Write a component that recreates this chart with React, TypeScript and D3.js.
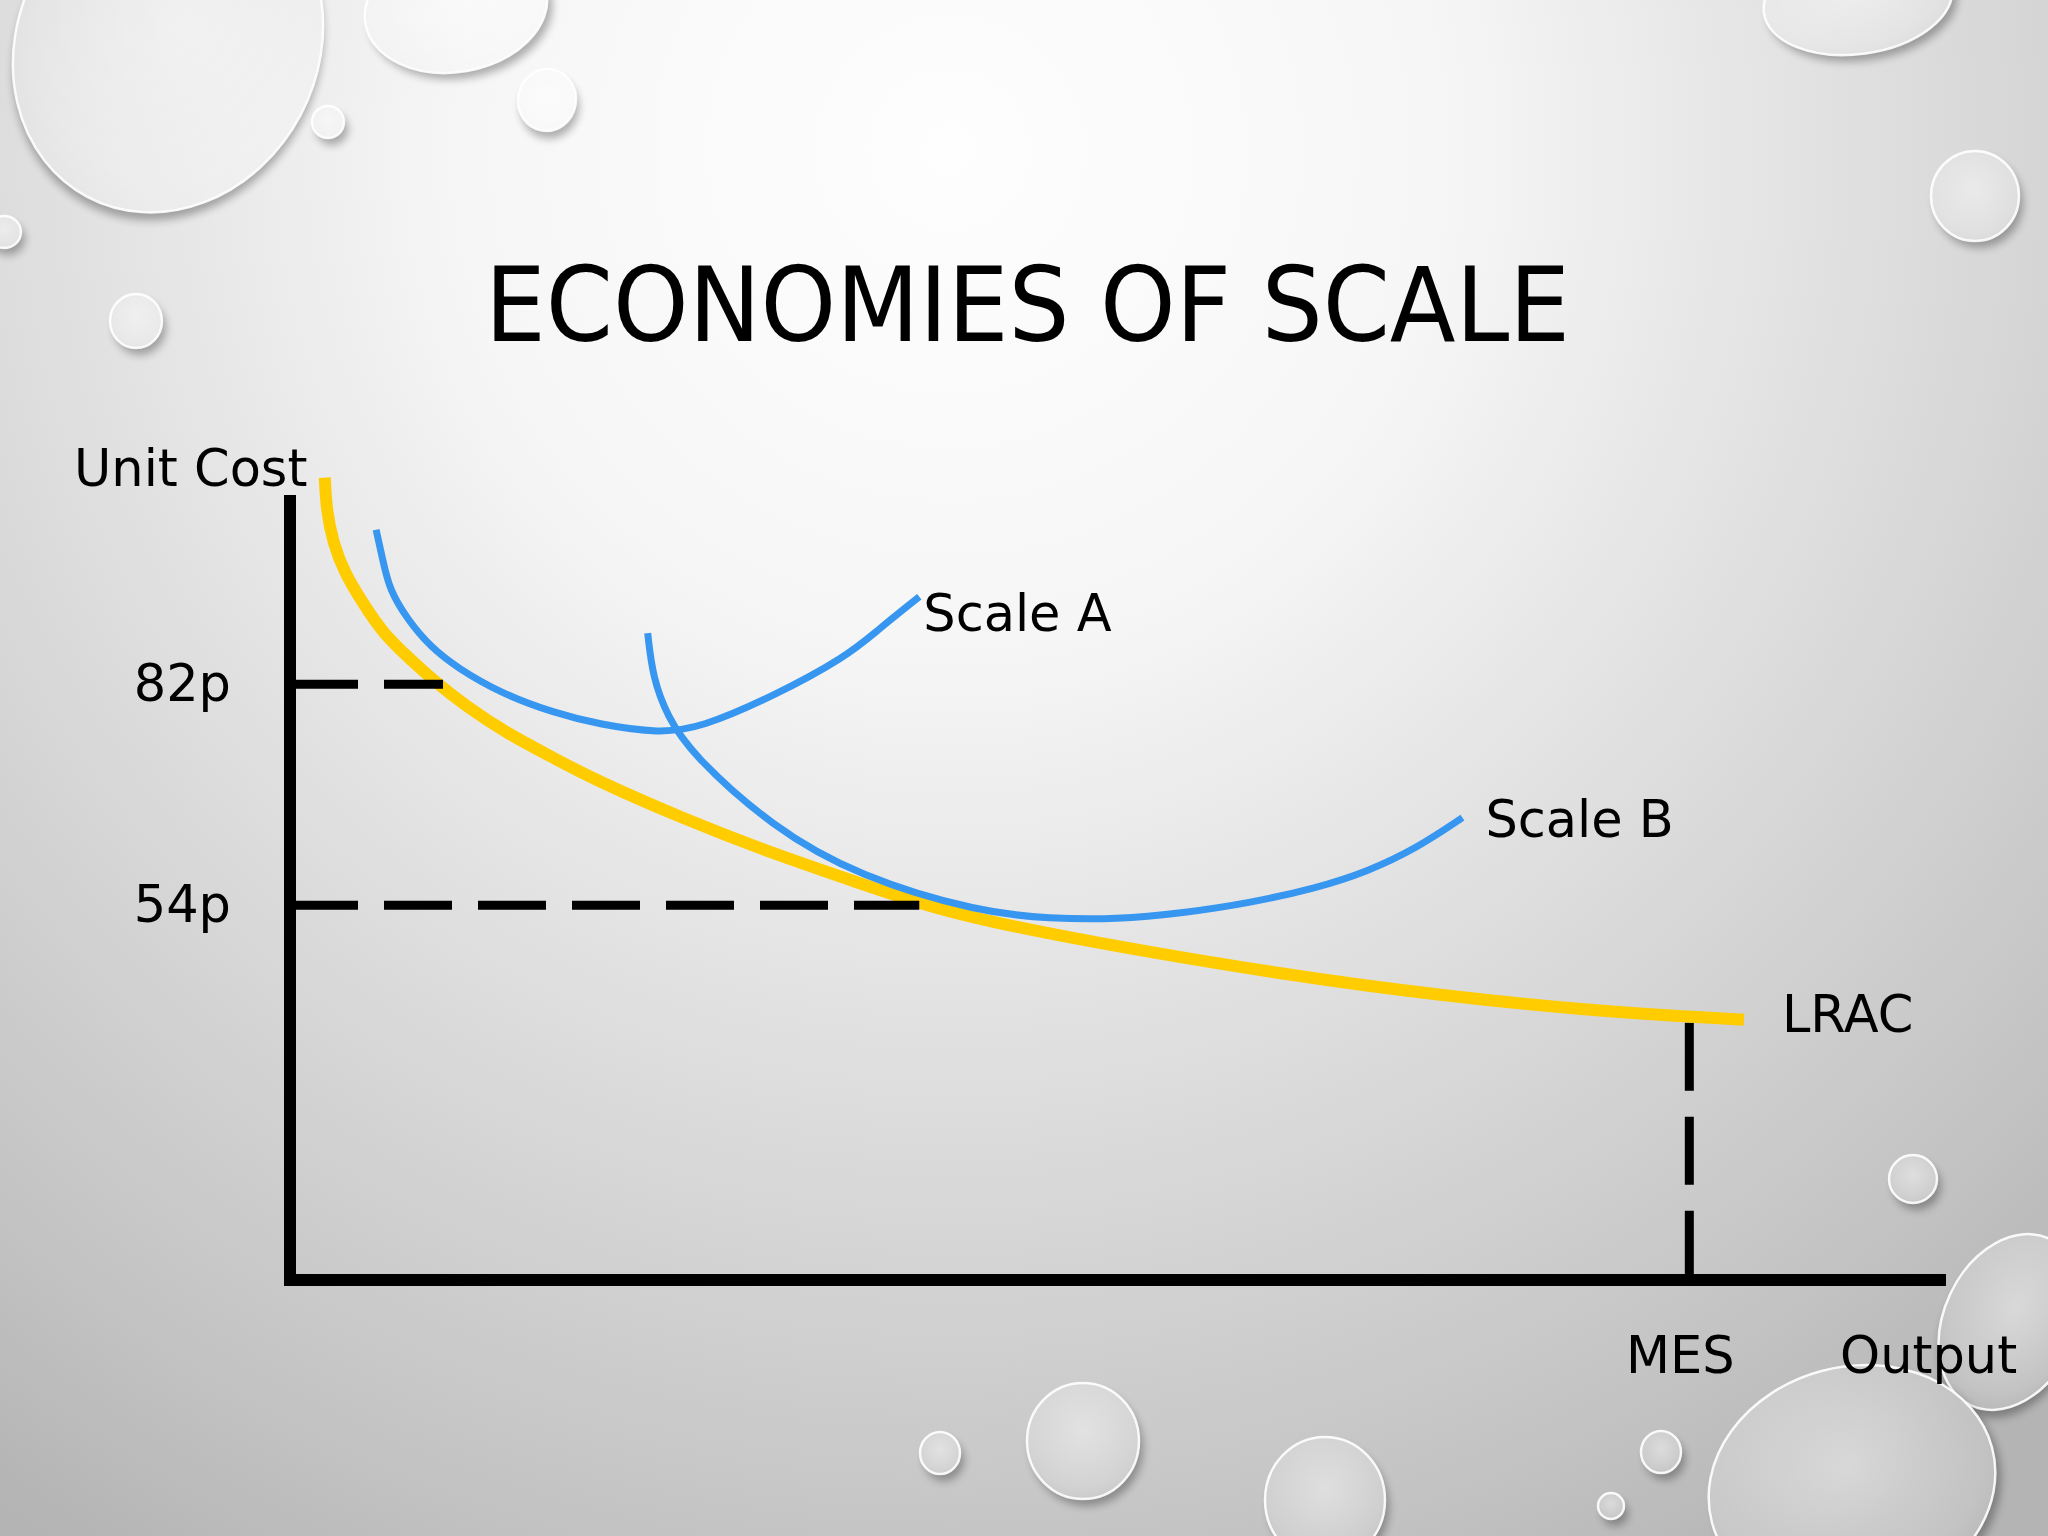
import React, { useEffect, useRef } from 'react';
import * as d3 from 'd3';

// output (0-100 along the x axis) vs unit cost in pence
const lracOutput = [2.1, 2.2, 2.6, 3.3, 4.4, 5.6, 7.3, 8.6, 10.7, 13.1, 15.9, 18.2, 23.7, 29.1, 34.4, 37.9, 41.7, 51.0, 64.9, 78.8, 87.8];
const lracCost = [108.2, 104.1, 99.9, 96.1, 92.3, 88.5, 85.1, 82.6, 79.1, 75.8, 72.7, 70.1, 65.0, 60.6, 56.8, 54.3, 52.1, 48.3, 43.6, 40.5, 39.5];

const scaleAOutput = [5.2, 5.6, 6.0, 7.1, 8.5, 10.1, 12.7, 15.9, 18.7, 22.3, 24.8, 29.1, 33.6, 35.5, 38.0];
const scaleACost = [101.6, 97.8, 94.0, 90.2, 86.7, 84.1, 80.9, 78.4, 76.9, 75.8, 76.5, 80.4, 85.5, 88.9, 93.1];

const scaleBOutput = [21.6, 21.9, 22.8, 24.2, 29.1, 34.4, 41.7, 45.9, 49.9, 53.9, 58.0, 62.0, 65.0, 68.1, 70.8];
const scaleBCost = [88.5, 82.9, 77.9, 73.3, 63.9, 57.6, 53.1, 52.3, 52.2, 53.0, 54.3, 56.2, 58.2, 61.3, 65.1];

const costTicks = [82, 54];
const costTickLabels = ['82p', '54p'];
const guideEnds = [9.24, 38.0]; // output where each cost guide meets the curves

const mesOutput = 84.5;
const mesCost = 39.6;

const curveNames = ['LRAC', 'Scale A', 'Scale B'];

// decorative water drops: cx, cy, rx, ry, rotation
const drops: [number, number, number, number, number][] = [
    [168, 45, 150, 172, 28],
    [456, 8, 92, 64, -10],
    [547, 100, 29, 31, 10],
    [328, 122, 16, 16, 0],
    [4, 232, 17, 16, 0],
    [136, 321, 26, 27, 0],
    [1858, 0, 95, 54, -8],
    [1975, 196, 44, 45, 0],
    [1913, 1179, 24, 24, 0],
    [2010, 1322, 66, 92, 25],
    [940, 1453, 20, 21, 0],
    [1083, 1441, 56, 58, 0],
    [1325, 1500, 60, 63, 0],
    [1661, 1452, 20, 21, 0],
    [1611, 1506, 13, 13, 0],
    [1852, 1485, 145, 118, -15],
];

const W = 2048;
const H = 1536;
const FONT = '"DejaVu Sans", Verdana, sans-serif';

const App: React.FC = () => {
    const svgRef = useRef<SVGSVGElement>(null);

    useEffect(() => {
        if (!svgRef.current) return;
        const svg = d3.select(svgRef.current);
        svg.selectAll('*').remove();

        const x = d3.scaleLinear().domain([0, 100]).range([290, 1946]);
        const y = d3.scaleLinear().domain([6.5, 106]).range([1280, 495]);

        const defs = svg.append('defs');
        const bg = defs.append('radialGradient')
            .attr('id', 'bg')
            .attr('gradientUnits', 'userSpaceOnUse')
            .attr('cx', 950).attr('cy', 150).attr('r', 1650);
        bg.append('stop').attr('offset', 0).attr('stop-color', '#fefefe');
        bg.append('stop').attr('offset', 0.3).attr('stop-color', '#f6f6f6');
        bg.append('stop').attr('offset', 0.62).attr('stop-color', '#d9d9d9');
        bg.append('stop').attr('offset', 0.85).attr('stop-color', '#c4c4c4');
        bg.append('stop').attr('offset', 1).attr('stop-color', '#b4b4b4');

        const dropFill = defs.append('radialGradient')
            .attr('id', 'drop')
            .attr('cx', '50%').attr('cy', '42%').attr('r', '60%');
        dropFill.append('stop').attr('offset', 0).attr('stop-color', '#fff').attr('stop-opacity', 0.45);
        dropFill.append('stop').attr('offset', 0.8).attr('stop-color', '#fff').attr('stop-opacity', 0.2);
        dropFill.append('stop').attr('offset', 1).attr('stop-color', '#fff').attr('stop-opacity', 0.05);

        defs.append('filter').attr('id', 'blur')
            .attr('x', '-30%').attr('y', '-30%').attr('width', '160%').attr('height', '160%')
            .append('feGaussianBlur').attr('stdDeviation', 4);

        svg.append('rect').attr('width', W).attr('height', H).attr('fill', 'url(#bg)');

        // drops: soft shadow, a body that repaints the backdrop, a light sheen and a rim
        const dropG = svg.append('g');
        drops.forEach(([cx, cy, rx, ry, rot]) => {
            const g = dropG.append('g').attr('transform', `rotate(${rot},${cx},${cy})`);
            g.append('ellipse')
                .attr('cx', cx + 4).attr('cy', cy + 7).attr('rx', rx).attr('ry', ry)
                .attr('fill', '#000').attr('opacity', 0.3).attr('filter', 'url(#blur)');
            g.append('ellipse')
                .attr('cx', cx).attr('cy', cy).attr('rx', rx).attr('ry', ry)
                .attr('fill', 'url(#bg)');
            g.append('ellipse')
                .attr('cx', cx).attr('cy', cy).attr('rx', rx).attr('ry', ry)
                .attr('fill', 'url(#drop)')
                .attr('stroke', '#ffffff').attr('stroke-opacity', 0.9).attr('stroke-width', 2.5);
        });

        // title
        svg.append('text')
            .attr('x', 485).attr('y', 341)
            .attr('textLength', 1085).attr('lengthAdjust', 'spacingAndGlyphs')
            .attr('font-family', FONT).attr('font-size', 103)
            .attr('fill', '#000')
            .text('ECONOMIES OF SCALE');

        const chart = svg.append('g');

        // MES guide sits under the curve
        chart.append('line')
            .attr('x1', x(mesOutput)).attr('x2', x(mesOutput))
            .attr('y1', y(mesCost) + 4).attr('y2', y(6.5))
            .attr('stroke', '#000').attr('stroke-width', 9)
            .attr('stroke-dasharray', '68 26');

        const line = d3.line<[number, number]>()
            .x(d => x(d[0]))
            .y(d => y(d[1]))
            .curve(d3.curveBasis);

        const series = [
            { name: curveNames[0], q: lracOutput, c: lracCost, color: '#ffcc00', w: 12 },
            { name: curveNames[1], q: scaleAOutput, c: scaleACost, color: '#3797f0', w: 7 },
            { name: curveNames[2], q: scaleBOutput, c: scaleBCost, color: '#3797f0', w: 7 },
        ];

        chart.selectAll('path.curve')
            .data(series)
            .join('path')
            .attr('class', 'curve')
            .attr('d', s => line(s.q.map((q, i) => [q, s.c[i]] as [number, number])))
            .attr('fill', 'none')
            .attr('stroke', s => s.color)
            .attr('stroke-width', s => s.w)
            .attr('stroke-linecap', 'butt');

        // cost guides
        chart.selectAll('line.guide')
            .data(costTicks)
            .join('line')
            .attr('class', 'guide')
            .attr('x1', x(0)).attr('x2', (_, i) => x(guideEnds[i]))
            .attr('y1', d => y(d)).attr('y2', d => y(d))
            .attr('stroke', '#000').attr('stroke-width', 9)
            .attr('stroke-dasharray', '68 26');

        // axes
        chart.append('line')
            .attr('x1', x(0)).attr('x2', x(0))
            .attr('y1', y(106)).attr('y2', y(6.5) + 6)
            .attr('stroke', '#000').attr('stroke-width', 12);
        chart.append('line')
            .attr('x1', x(0) - 6).attr('x2', x(100))
            .attr('y1', y(6.5)).attr('y2', y(6.5))
            .attr('stroke', '#000').attr('stroke-width', 12);

        const label = (tx: number, ty: number, txt: string, anchor = 'start') =>
            chart.append('text')
                .attr('x', tx).attr('y', ty)
                .attr('text-anchor', anchor)
                .attr('font-family', FONT).attr('font-size', 51)
                .attr('fill', '#000')
                .text(txt);

        costTicks.forEach((c, i) => label(231, y(c) + 17, costTickLabels[i], 'end'));
        label(74, 486, 'Unit Cost');
        label(x(mesOutput) - 9, 1373, 'MES', 'middle');
        label(1840, 1373, 'Output');

        const last = (a: number[]) => a[a.length - 1];
        label(x(last(scaleAOutput)) + 4, y(last(scaleACost)) + 34, curveNames[1]);
        label(x(last(scaleBOutput)) + 23, y(last(scaleBCost)) + 19, curveNames[2]);
        label(x(last(lracOutput)) + 38, y(last(lracCost)) + 12, curveNames[0]);
    }, []);

    return (
        <svg
            ref={svgRef}
            width={W}
            height={H}
            style={{ position: 'absolute', left: 0, top: 0, display: 'block' }}
        />
    );
};

export default App;
